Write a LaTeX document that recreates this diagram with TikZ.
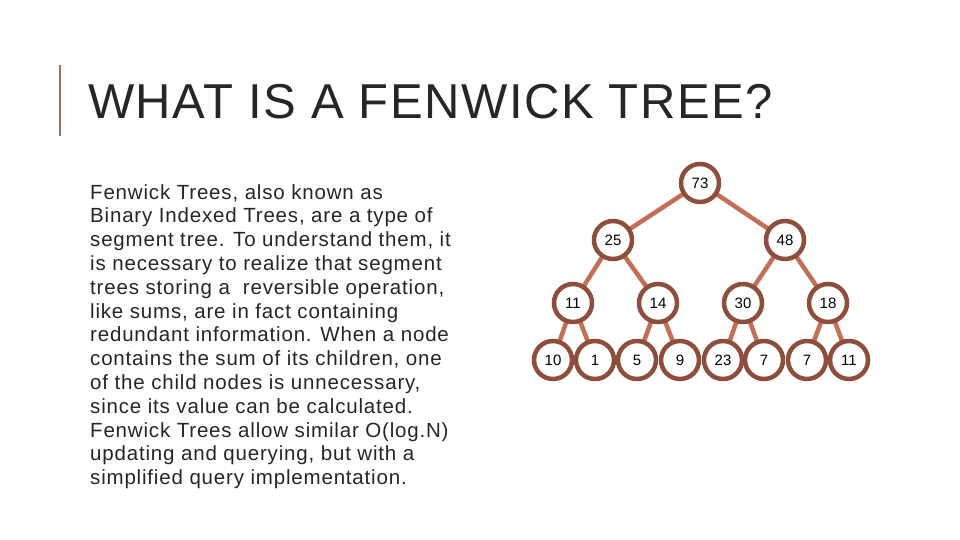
\documentclass[tikz,border=0pt]{standalone}
\usepackage{fontspec}
\setmainfont{Liberation Sans}
\newfontfamily\spaced[LetterSpace=4]{Liberation Sans}
\newfontfamily\tspaced[LetterSpace=3]{Liberation Sans}
\definecolor{ring}{HTML}{8E4E3C}
\definecolor{edge}{HTML}{C46E56}
\definecolor{bar}{HTML}{B06C5A}
\begin{document}
\begin{tikzpicture}[x=1pt,y=-1pt,
  tn/.style={circle,draw=ring,line width=4.5pt,fill=white,minimum size=38pt,inner sep=0pt,font=\fontsize{15}{15}\selectfont},
  ed/.style={edge,line width=4.5pt}]
\useasboundingbox (0,0) rectangle (960,540);
\fill[white] (0,0) rectangle (960,540);
\draw[bar,line width=2pt] (60,65) -- (60,136);
\node[anchor=base west,inner sep=0pt,text=black!85,font=\tspaced\fontsize{49}{49}\selectfont] (title) at (88,119) {WHAT IS A FENWICK TREE?};
\node[anchor=north west,inner sep=0pt,align=left,text=black!85,font=\spaced\fontsize{20.5}{23.8}\selectfont] (body) at (90,184) {Fenwick Trees, also known as\\Binary Indexed Trees, are a type of\\segment tree. To understand them, it\\is necessary to realize that segment\\trees storing a\ \ reversible operation,\\like sums, are in fact containing\\redundant information. When a node\\contains the sum of its children, one\\of the child nodes is unnecessary,\\since its value can be calculated.\\Fenwick Trees allow similar O(log.N)\\updating and querying, but with a\\simplified query implementation.};
\coordinate (r) at (700,183);
\coordinate (a) at (613,240); \coordinate (b) at (785,240);
\coordinate (c) at (573,303); \coordinate (d) at (658,303); \coordinate (e) at (743,303); \coordinate (f) at (828,303);
\coordinate (l1) at (553,360); \coordinate (l2) at (595,360); \coordinate (l3) at (637,360); \coordinate (l4) at (680,360);
\coordinate (l5) at (723,360); \coordinate (l6) at (764,360); \coordinate (l7) at (807,360); \coordinate (l8) at (849,360);
\draw[ed] (r)--(a) (r)--(b) (a)--(c) (a)--(d) (b)--(e) (b)--(f)
 (c)--(l1) (c)--(l2) (d)--(l3) (d)--(l4) (e)--(l5) (e)--(l6) (f)--(l7) (f)--(l8);
\node[tn] (nr) at (r) {73};
\node[tn] (na) at (a) {25}; \node[tn] (nb) at (b) {48};
\node[tn] (nc) at (c) {11}; \node[tn] (nd) at (d) {14}; \node[tn] (ne) at (e) {30}; \node[tn] (nf) at (f) {18};
\node[tn] (n1) at (l1) {10}; \node[tn] (n2) at (l2) {1}; \node[tn] (n3) at (l3) {5}; \node[tn] (n4) at (l4) {9};
\node[tn] (n5) at (l5) {23}; \node[tn] (n6) at (l6) {7}; \node[tn] (n7) at (l7) {7}; \node[tn] (n8) at (l8) {11};
\end{tikzpicture}
\end{document}
